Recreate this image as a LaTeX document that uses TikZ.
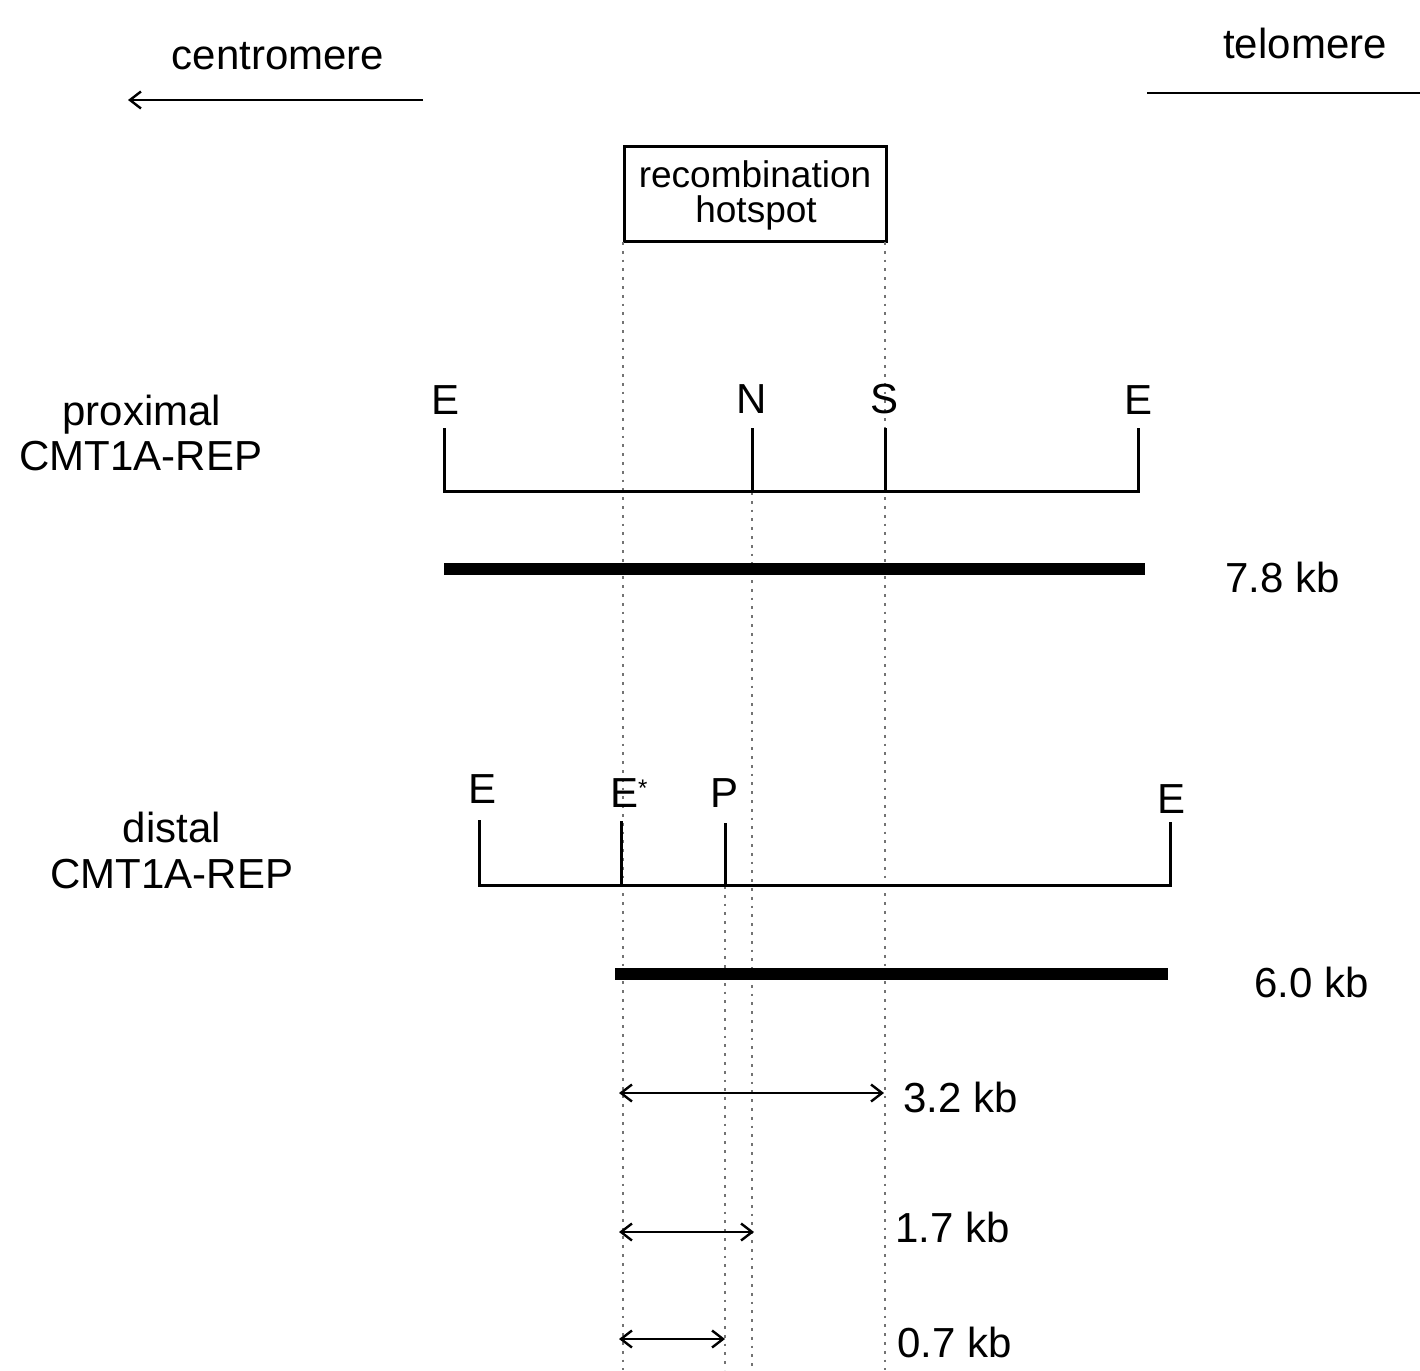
\documentclass[tikz,border=0pt]{standalone}
\usepackage{fontspec}
\setmainfont{Liberation Sans}
\usetikzlibrary{arrows.meta}
\begin{document}
\begin{tikzpicture}[x=1pt,y=-1pt,
  lbl/.style={font=\fontsize{42}{48}\selectfont, inner sep=0pt, anchor=base},
  lblw/.style={font=\fontsize{42}{48}\selectfont, inner sep=0pt, anchor=base west},
  mapline/.style={line width=3pt, line join=miter},
  bar/.style={line width=12pt},
  dots/.style={draw=black!55, line width=2.8pt, dash pattern=on 2.8pt off 6pt},
  dimarrow/.style={line width=2.4pt, {Straight Barb[length=11pt,width=17pt,line width=2.4pt]}-{Straight Barb[length=11pt,width=17pt,line width=2.4pt]}},
]
\useasboundingbox (0,0) rectangle (1420,1370);

% top direction labels
\node[lbl] (cen) at (278,70) {centromere};
\node[lbl] (tel) at (1305,59) {telomere};
\coordinate (cenA) at (423,100);
\coordinate (cenB) at (128,100);
\draw[line width=2.4pt, -{Straight Barb[length=11pt,width=17pt,line width=2.4pt]}] (cenA) -- (cenB);
\coordinate (telA) at (1147,93);
\coordinate (telB) at (1420,93);
\draw[line width=2.4pt] (telA) -- (telB);

% hotspot box
\node[draw, line width=3pt, minimum width=262pt, minimum height=95pt, inner sep=0pt] (hot) at (755.5,193.5) {};
\node[font=\fontsize{37}{40}\selectfont, inner sep=0pt, anchor=base] (hot1) at (755,187) {recombination};
\node[font=\fontsize{37}{40}\selectfont, inner sep=0pt, anchor=base] (hot2) at (756,222) {hotspot};

% dotted guide lines
\coordinate (dLt) at (623,242);  \coordinate (dLb) at (623,1370);
\coordinate (dRt) at (885,242);  \coordinate (dRb) at (885,1370);
\coordinate (dNt) at (752,492);  \coordinate (dNb) at (752,1370);
\coordinate (dPt) at (725,886);  \coordinate (dPb) at (725,1370);
\draw[dots] (dLt) -- (dLb);
\draw[dots] (dRt) -- (dRb);
\draw[dots] (dNt) -- (dNb);
\draw[dots] (dPt) -- (dPb);

% proximal CMT1A-REP
\node[lbl] (prox1) at (142,425) {proximal};
\node[lbl] (prox2) at (141,470) {CMT1A-REP};
\node[lbl] (pE1) at (445,414) {E};
\node[lbl] (pN) at (752,413) {N};
\node[lbl] (pS) at (884,413) {S};
\node[lbl] (pE2) at (1138,414) {E};
\coordinate (p1t) at (444,428); \coordinate (p1b) at (444,491);
\coordinate (p4t) at (1138,428); \coordinate (p4b) at (1138,491);
\coordinate (pNt) at (752,428); \coordinate (pNb) at (752,491);
\coordinate (pSt) at (885,428); \coordinate (pSb) at (885,491);
\draw[mapline] (p1t) -- (p1b) -- (p4b) -- (p4t);
\draw[mapline] (pNt) -- (pNb);
\draw[mapline] (pSt) -- (pSb);
\coordinate (pb1) at (444,569); \coordinate (pb2) at (1145,569);
\draw[bar] (pb1) -- (pb2);
\node[lblw] (kb78) at (1225,592) {7.8 kb};

% distal CMT1A-REP
\node[lbl] (dist1) at (172,842) {distal};
\node[lbl] (dist2) at (172,888) {CMT1A-REP};
\node[lbl] (qE1) at (482,803) {E};
\node[lblw] (qE2) at (610,807) {E\raisebox{11pt}{\fontsize{24}{24}\selectfont *}};
\node[lbl] (qP) at (724,807) {P};
\node[lbl] (qE3) at (1171,813) {E};
\coordinate (q1t) at (479,820); \coordinate (q1b) at (479,885);
\coordinate (q4t) at (1170,822); \coordinate (q4b) at (1170,885);
\coordinate (q2t) at (621,821); \coordinate (q2b) at (621,885);
\coordinate (q3t) at (725,823); \coordinate (q3b) at (725,885);
\draw[mapline] (q1t) -- (q1b) -- (q4b) -- (q4t);
\draw[mapline] (q2t) -- (q2b);
\draw[mapline] (q3t) -- (q3b);
\coordinate (qb1) at (615,974); \coordinate (qb2) at (1168,974);
\draw[bar] (qb1) -- (qb2);
\node[lblw] (kb60) at (1254,997) {6.0 kb};

% distance arrows
\coordinate (a1l) at (619,1093); \coordinate (a1r) at (884,1093);
\coordinate (a2l) at (619,1232); \coordinate (a2r) at (754,1232);
\coordinate (a3l) at (619,1339); \coordinate (a3r) at (725,1339);
\draw[dimarrow] (a1l) -- (a1r);
\draw[dimarrow] (a2l) -- (a2r);
\draw[dimarrow] (a3l) -- (a3r);
\node[lblw] (kb32) at (903,1112) {3.2 kb};
\node[lblw] (kb17) at (895,1242) {1.7 kb};
\node[lblw] (kb07) at (897,1357) {0.7 kb};
\end{tikzpicture}
\end{document}
